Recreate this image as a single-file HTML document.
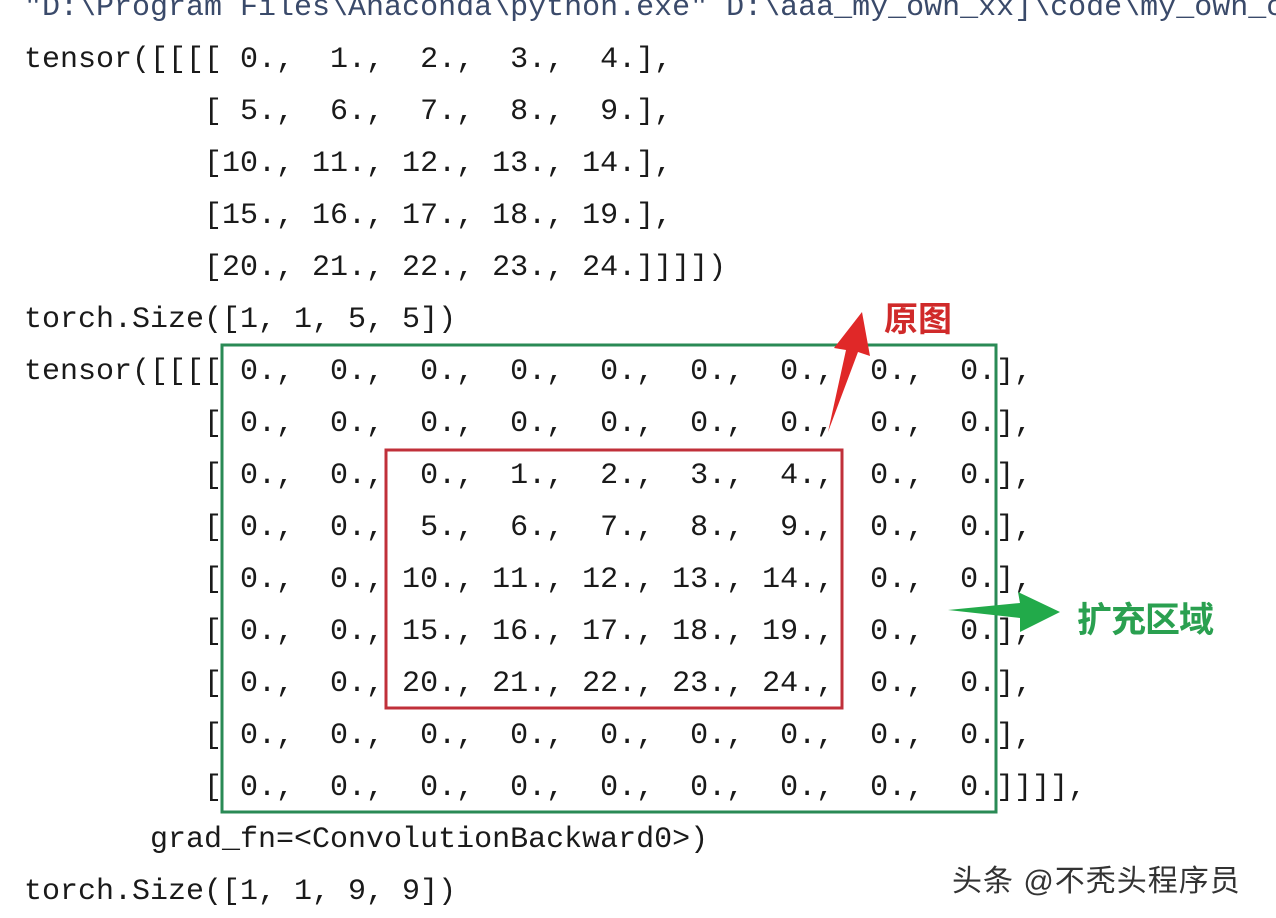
<!DOCTYPE html>
<html><head><meta charset="utf-8"><style>
html,body{margin:0;padding:0;background:#fff;}
body{width:1276px;height:916px;position:relative;overflow:hidden;}
.l{position:absolute;left:24px;font-family:"Liberation Mono",monospace;font-size:30px;line-height:52px;height:52px;white-space:pre;color:#1a1a1a;}
.top{color:#3a4a6a;}
svg{position:absolute;left:0;top:0;}
.lab{position:absolute;font-family:"Liberation Sans","Noto Sans CJK SC",sans-serif;font-weight:bold;}
.wm{position:absolute;left:952px;top:856px;font-family:"Liberation Sans","Noto Sans CJK SC",sans-serif;font-size:30px;letter-spacing:1px;color:#333;}
</style></head><body>
<div class="l top" style="top:-18px">"D:\Program Files\Anaconda\python.exe" D:\aaa_my_own_xx]\code\my_own_c</div>
<div class="l" style="top:34px">tensor([[[[ 0.,  1.,  2.,  3.,  4.],</div>
<div class="l" style="top:86px">          [ 5.,  6.,  7.,  8.,  9.],</div>
<div class="l" style="top:138px">          [10., 11., 12., 13., 14.],</div>
<div class="l" style="top:190px">          [15., 16., 17., 18., 19.],</div>
<div class="l" style="top:242px">          [20., 21., 22., 23., 24.]]]])</div>
<div class="l" style="top:294px">torch.Size([1, 1, 5, 5])</div>
<div class="l" style="top:346px">tensor([[[[ 0.,  0.,  0.,  0.,  0.,  0.,  0.,  0.,  0.],</div>
<div class="l" style="top:398px">          [ 0.,  0.,  0.,  0.,  0.,  0.,  0.,  0.,  0.],</div>
<div class="l" style="top:450px">          [ 0.,  0.,  0.,  1.,  2.,  3.,  4.,  0.,  0.],</div>
<div class="l" style="top:502px">          [ 0.,  0.,  5.,  6.,  7.,  8.,  9.,  0.,  0.],</div>
<div class="l" style="top:554px">          [ 0.,  0., 10., 11., 12., 13., 14.,  0.,  0.],</div>
<div class="l" style="top:606px">          [ 0.,  0., 15., 16., 17., 18., 19.,  0.,  0.],</div>
<div class="l" style="top:658px">          [ 0.,  0., 20., 21., 22., 23., 24.,  0.,  0.],</div>
<div class="l" style="top:710px">          [ 0.,  0.,  0.,  0.,  0.,  0.,  0.,  0.,  0.],</div>
<div class="l" style="top:762px">          [ 0.,  0.,  0.,  0.,  0.,  0.,  0.,  0.,  0.]]]],</div>
<div class="l" style="top:814px">       grad_fn=&lt;ConvolutionBackward0&gt;)</div>
<div class="l" style="top:866px">torch.Size([1, 1, 9, 9])</div>
<svg width="1276" height="916">
<rect x="222" y="345" width="774" height="467" fill="none" stroke="#2a8a55" stroke-width="3"/>
<rect x="386" y="450" width="456" height="258" fill="none" stroke="#c0303a" stroke-width="3"/>
<polygon points="828,432 846,350 834,348 862,312 870,356 858,352" fill="#e02828"/>
<polygon points="948,610 1020,603 1018,592 1060,612 1020,632 1020,618" fill="#22aa4a"/>
</svg>
<div class="lab" style="left:884px;top:292px;font-size:34px;color:#d02a2a">原图</div>
<div class="lab" style="left:1077px;top:592px;font-size:35px;letter-spacing:-1px;color:#2aa050">扩充区域</div>
<div class="wm">头条 @不秃头程序员</div>
</body></html>
